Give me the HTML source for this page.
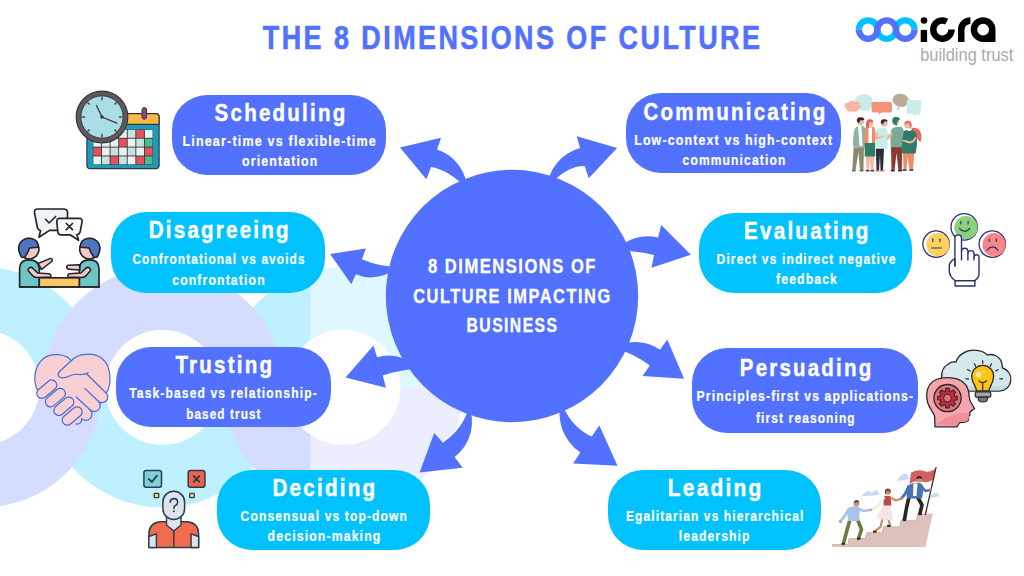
<!DOCTYPE html>
<html><head><meta charset="utf-8"><style>
html,body{margin:0;padding:0;background:#fff;}
body{width:1024px;height:576px;overflow:hidden;}
svg{display:block;}
</style></head><body>
<svg width="1024" height="576" viewBox="0 0 1024 576" font-family="Liberation Sans, sans-serif" font-weight="700">
<rect width="1024" height="576" fill="#fff"/>
<g>
<path fill="#bff0ff" d="M-138.4,387.3 A120.4,120.4 0 0 1 102.4,387.3 L39.5,387.3 A57.5,57.5 0 0 0 -75.5,387.3 Z M42.099999999999994,387.3 A120.4,120.4 0 0 0 282.9,387.3 L220.0,387.3 A57.5,57.5 0 0 1 105.0,387.3 Z M222.6,387.3 A120.4,120.4 0 0 1 463.4,387.3 L400.5,387.3 A57.5,57.5 0 0 0 285.5,387.3 Z"/>
<path fill="#d4dcff" d="M-138.4,387.3 A120.4,120.4 0 0 0 102.4,387.3 L39.5,387.3 A57.5,57.5 0 0 1 -75.5,387.3 Z M42.099999999999994,387.3 A120.4,120.4 0 0 1 282.9,387.3 L220.0,387.3 A57.5,57.5 0 0 0 105.0,387.3 Z M222.6,387.3 A120.4,120.4 0 0 0 463.4,387.3 L400.5,387.3 A57.5,57.5 0 0 1 285.5,387.3 Z"/>
<rect x="310.5" y="0" width="714" height="576" fill="#fff" fill-opacity="0.5"/>
</g>
<g fill="#5271ff">
<path d="M400.0,147.4 L441.0,137.7 L437.1,149.4 A43.9,43.9 0 0 1 467.3,191.8 L468.3,190.5 Q449.9,170.1 431.1,167.0 L426.4,179.2 Z"/>
<path d="M617.1,148.1 L576.7,136.2 L580.1,148.1 A44.9,44.9 0 0 0 546.8,189.0 L548.0,187.0 Q565.8,165.8 584.6,165.9 L588.8,178.2 Z"/>
<path d="M330.0,253.9 L365.9,248.4 L361.9,259.3 A89.9,89.9 0 0 0 402.6,266.6 L398.6,265.4 A37.9,37.9 0 0 1 355.8,274.2 L351.3,284.3 Z"/>
<path d="M345.5,377.4 L373.5,345.5 L377.1,357.3 A37.7,37.7 0 0 1 413.0,364.7 L422.9,368.1 A166.6,166.6 0 0 0 382.8,375.5 L385.9,387.7 Z"/>
<path d="M690.9,254.8 L661.2,225.0 L658.1,237.5 A44.0,44.0 0 0 0 615.1,250.7 L616.2,250.6 A158.6,158.6 0 0 1 654.1,255.1 L651.4,267.8 Z"/>
<path d="M684.1,378.7 L667.3,339.4 L660.0,349.8 A40.9,40.9 0 0 0 616.8,346.9 L612.3,347.1 A124.7,124.7 0 0 1 649.8,365.5 L642.6,375.9 Z"/>
<path d="M419.6,472.5 L434.2,433.1 L442.9,442.8 Q465.2,427.7 470.3,401.6 L467.8,403.0 A44.2,44.2 0 0 1 454.7,457.0 L462.6,467.8 Z"/>
<path d="M617.5,465.7 L599.4,425.4 L591.7,436.5 Q568.6,425.8 560.1,397.9 L561.3,399.8 A47.7,47.7 0 0 0 580.3,452.5 L573.1,463.6 Z"/>

</g>
<circle cx="512" cy="296" r="126.2" fill="#5271ff"/>
<text x="512.50" y="272.5" font-size="19.5" letter-spacing="1.8" text-anchor="middle" textLength="169.00" lengthAdjust="spacingAndGlyphs" fill="#fff" stroke="#fff" stroke-width="0.3">8 DIMENSIONS OF</text>
<text x="512.50" y="302.5" font-size="19.5" letter-spacing="1.8" text-anchor="middle" textLength="198.60" lengthAdjust="spacingAndGlyphs" fill="#fff" stroke="#fff" stroke-width="0.3">CULTURE IMPACTING</text>
<text x="512.50" y="331.9" font-size="19.5" letter-spacing="1.8" text-anchor="middle" textLength="91.80" lengthAdjust="spacingAndGlyphs" fill="#fff" stroke="#fff" stroke-width="0.3">BUSINESS</text>
<rect x="172" y="95" width="214" height="80" rx="35" ry="35" fill="#5271ff"/>
<text x="281.00" y="120.9" font-size="24" letter-spacing="2.6" text-anchor="middle" textLength="132.80" lengthAdjust="spacingAndGlyphs" fill="#fff" stroke="#fff" stroke-width="0.45">Scheduling</text>
<text x="279.70" y="145.6" font-size="13.8" letter-spacing="1.3" text-anchor="middle" textLength="194.60" lengthAdjust="spacingAndGlyphs" fill="#fff" stroke="#fff" stroke-width="0.2">Linear-time vs flexible-time</text>
<text x="280.20" y="165.9" font-size="13.8" letter-spacing="1.3" text-anchor="middle" textLength="76.40" lengthAdjust="spacingAndGlyphs" fill="#fff" stroke="#fff" stroke-width="0.2">orientation</text>
<rect x="626" y="93" width="215" height="80" rx="35" ry="35" fill="#5271ff"/>
<text x="735.50" y="119.8" font-size="24" letter-spacing="2.6" text-anchor="middle" textLength="184.20" lengthAdjust="spacingAndGlyphs" fill="#fff" stroke="#fff" stroke-width="0.45">Communicating</text>
<text x="733.70" y="144.5" font-size="13.8" letter-spacing="1.3" text-anchor="middle" textLength="199.00" lengthAdjust="spacingAndGlyphs" fill="#fff" stroke="#fff" stroke-width="0.2">Low-context vs high-context</text>
<text x="734.50" y="164.7" font-size="13.8" letter-spacing="1.3" text-anchor="middle" textLength="103.80" lengthAdjust="spacingAndGlyphs" fill="#fff" stroke="#fff" stroke-width="0.2">communication</text>
<rect x="111" y="212" width="214" height="81" rx="35" ry="35" fill="#00c2ff"/>
<text x="219.80" y="238.3" font-size="24" letter-spacing="2.6" text-anchor="middle" textLength="142.00" lengthAdjust="spacingAndGlyphs" fill="#fff" stroke="#fff" stroke-width="0.45">Disagreeing</text>
<text x="219.00" y="264" font-size="13.8" letter-spacing="1.3" text-anchor="middle" textLength="173.20" lengthAdjust="spacingAndGlyphs" fill="#fff" stroke="#fff" stroke-width="0.2">Confrontational vs avoids</text>
<text x="219.00" y="285" font-size="13.8" letter-spacing="1.3" text-anchor="middle" textLength="93.60" lengthAdjust="spacingAndGlyphs" fill="#fff" stroke="#fff" stroke-width="0.2">confrontation</text>
<rect x="699" y="213" width="213" height="80" rx="35" ry="35" fill="#00c2ff"/>
<text x="807.30" y="239.1" font-size="24" letter-spacing="2.6" text-anchor="middle" textLength="126.60" lengthAdjust="spacingAndGlyphs" fill="#fff" stroke="#fff" stroke-width="0.45">Evaluating</text>
<text x="806.60" y="263.9" font-size="13.8" letter-spacing="1.3" text-anchor="middle" textLength="180.00" lengthAdjust="spacingAndGlyphs" fill="#fff" stroke="#fff" stroke-width="0.2">Direct vs indirect negative</text>
<text x="807.00" y="284" font-size="13.8" letter-spacing="1.3" text-anchor="middle" textLength="62.00" lengthAdjust="spacingAndGlyphs" fill="#fff" stroke="#fff" stroke-width="0.2">feedback</text>
<rect x="116" y="347" width="215" height="80" rx="35" ry="35" fill="#5271ff"/>
<text x="224.80" y="373.2" font-size="24" letter-spacing="2.6" text-anchor="middle" textLength="98.80" lengthAdjust="spacingAndGlyphs" fill="#fff" stroke="#fff" stroke-width="0.45">Trusting</text>
<text x="223.50" y="398" font-size="13.8" letter-spacing="1.3" text-anchor="middle" textLength="188.60" lengthAdjust="spacingAndGlyphs" fill="#fff" stroke="#fff" stroke-width="0.2">Task-based vs relationship-</text>
<text x="223.90" y="418.6" font-size="13.8" letter-spacing="1.3" text-anchor="middle" textLength="75.40" lengthAdjust="spacingAndGlyphs" fill="#fff" stroke="#fff" stroke-width="0.2">based trust</text>
<rect x="692" y="348" width="226" height="85" rx="35" ry="35" fill="#5271ff"/>
<text x="806.60" y="376.3" font-size="24" letter-spacing="2.6" text-anchor="middle" textLength="133.60" lengthAdjust="spacingAndGlyphs" fill="#fff" stroke="#fff" stroke-width="0.45">Persuading</text>
<text x="805.40" y="401.4" font-size="13.8" letter-spacing="1.3" text-anchor="middle" textLength="217.60" lengthAdjust="spacingAndGlyphs" fill="#fff" stroke="#fff" stroke-width="0.2">Principles-first vs applications-</text>
<text x="805.90" y="423.2" font-size="13.8" letter-spacing="1.3" text-anchor="middle" textLength="99.80" lengthAdjust="spacingAndGlyphs" fill="#fff" stroke="#fff" stroke-width="0.2">first reasoning</text>
<rect x="217" y="470" width="213" height="80" rx="35" ry="35" fill="#00c2ff"/>
<text x="324.90" y="495.9" font-size="24" letter-spacing="2.6" text-anchor="middle" textLength="105.00" lengthAdjust="spacingAndGlyphs" fill="#fff" stroke="#fff" stroke-width="0.45">Deciding</text>
<text x="324.30" y="520.6" font-size="13.8" letter-spacing="1.3" text-anchor="middle" textLength="167.40" lengthAdjust="spacingAndGlyphs" fill="#fff" stroke="#fff" stroke-width="0.2">Consensual vs top-down</text>
<text x="324.50" y="540.9" font-size="13.8" letter-spacing="1.3" text-anchor="middle" textLength="113.80" lengthAdjust="spacingAndGlyphs" fill="#fff" stroke="#fff" stroke-width="0.2">decision-making</text>
<rect x="608" y="470" width="213" height="80" rx="35" ry="35" fill="#00c2ff"/>
<text x="715.70" y="496.4" font-size="24" letter-spacing="2.6" text-anchor="middle" textLength="95.80" lengthAdjust="spacingAndGlyphs" fill="#fff" stroke="#fff" stroke-width="0.45">Leading</text>
<text x="715.20" y="521.1" font-size="13.8" letter-spacing="1.3" text-anchor="middle" textLength="178.40" lengthAdjust="spacingAndGlyphs" fill="#fff" stroke="#fff" stroke-width="0.2">Egalitarian vs hierarchical</text>
<text x="714.70" y="541.3" font-size="13.8" letter-spacing="1.3" text-anchor="middle" textLength="71.80" lengthAdjust="spacingAndGlyphs" fill="#fff" stroke="#fff" stroke-width="0.2">leadership</text>
<text x="512.60" y="48.8" font-size="33" letter-spacing="3" text-anchor="middle" textLength="499.60" lengthAdjust="spacingAndGlyphs" fill="#5271ff" stroke="#5271ff" stroke-width="0.6">THE 8 DIMENSIONS OF CULTURE</text>
<g id="i1"><rect x="86.9" y="113.7" width="72.2" height="55" rx="3.5" fill="#1c9cbd" stroke="#3b3638" stroke-width="1.2"/><path d="M86.9,124.3 V117.2 a3.5,3.5 0 0 1 3.5,-3.5 H155.6 a3.5,3.5 0 0 1 3.5,3.5 V124.3 Z" fill="#fdb946" stroke="#3b3638" stroke-width="1.2"/><rect x="92.9" y="129.4" width="60.1" height="35.4" fill="#3b3638"/><rect x="93.35" y="129.85" width="7.69" height="7.95" fill="#e6f3f1"/><rect x="101.94" y="129.85" width="7.69" height="7.95" fill="#e6f3f1"/><rect x="110.52" y="129.85" width="7.69" height="7.95" fill="#e6f3f1"/><rect x="119.11" y="129.85" width="7.69" height="7.95" fill="#e6f3f1"/><rect x="127.69" y="129.85" width="7.69" height="7.95" fill="#c6e3df"/><rect x="136.28" y="129.85" width="7.69" height="7.95" fill="#e5525f"/><rect x="144.86" y="129.85" width="7.69" height="7.95" fill="#e6f3f1"/><rect x="93.35" y="138.70" width="7.69" height="7.95" fill="#e6f3f1"/><rect x="101.94" y="138.70" width="7.69" height="7.95" fill="#e6f3f1"/><rect x="110.52" y="138.70" width="7.69" height="7.95" fill="#e6f3f1"/><rect x="119.11" y="138.70" width="7.69" height="7.95" fill="#e5525f"/><rect x="127.69" y="138.70" width="7.69" height="7.95" fill="#e6f3f1"/><rect x="136.28" y="138.70" width="7.69" height="7.95" fill="#c6e3df"/><rect x="144.86" y="138.70" width="7.69" height="7.95" fill="#4dbb8e"/><rect x="93.35" y="147.55" width="7.69" height="7.95" fill="#e5525f"/><rect x="101.94" y="147.55" width="7.69" height="7.95" fill="#e6f3f1"/><rect x="110.52" y="147.55" width="7.69" height="7.95" fill="#c6e3df"/><rect x="119.11" y="147.55" width="7.69" height="7.95" fill="#e6f3f1"/><rect x="127.69" y="147.55" width="7.69" height="7.95" fill="#c6e3df"/><rect x="136.28" y="147.55" width="7.69" height="7.95" fill="#e6f3f1"/><rect x="144.86" y="147.55" width="7.69" height="7.95" fill="#e5525f"/><rect x="93.35" y="156.40" width="7.69" height="7.95" fill="#e6f3f1"/><rect x="101.94" y="156.40" width="7.69" height="7.95" fill="#c6e3df"/><rect x="110.52" y="156.40" width="7.69" height="7.95" fill="#e5525f"/><rect x="119.11" y="156.40" width="7.69" height="7.95" fill="#c6e3df"/><rect x="127.69" y="156.40" width="7.69" height="7.95" fill="#e6f3f1"/><rect x="136.28" y="156.40" width="7.69" height="7.95" fill="#e5525f"/><rect x="144.86" y="156.40" width="7.69" height="7.95" fill="#4dbb8e"/><rect x="142" y="107.6" width="4.6" height="11.6" rx="2.3" fill="#8c3f96" stroke="#3b3638" stroke-width="1"/><circle cx="102" cy="117" r="25.8" fill="#5e595e" stroke="#3b3638" stroke-width="1.2"/><circle cx="102" cy="117" r="21.2" fill="#a9dfe4" stroke="#3b3638" stroke-width="1"/><line x1="102.00" y1="100.20" x2="102.00" y2="96.40" stroke="#3b3638" stroke-width="1.3"/><line x1="114.45" y1="104.55" x2="116.42" y2="102.58" stroke="#3b3638" stroke-width="1.3"/><line x1="118.80" y1="117.00" x2="122.60" y2="117.00" stroke="#3b3638" stroke-width="1.3"/><line x1="114.45" y1="129.45" x2="116.42" y2="131.42" stroke="#3b3638" stroke-width="1.3"/><line x1="102.00" y1="133.80" x2="102.00" y2="137.60" stroke="#3b3638" stroke-width="1.3"/><line x1="89.55" y1="129.45" x2="87.58" y2="131.42" stroke="#3b3638" stroke-width="1.3"/><line x1="85.20" y1="117.00" x2="81.40" y2="117.00" stroke="#3b3638" stroke-width="1.3"/><line x1="89.55" y1="104.55" x2="87.58" y2="102.58" stroke="#3b3638" stroke-width="1.3"/><path d="M96.5,105.5 L102,117 L116.8,123.2" fill="none" stroke="#3b3638" stroke-width="1.3" stroke-linecap="round" stroke-linejoin="round"/><circle cx="102" cy="117" r="1.8" fill="#4a3530"/></g>
<g id="i2"><path d="M855,102 C853,93 872,91 872.5,100 C873,107 869,110 869,110 L869.5,112 L866,110.5 C860,112 856,109 855,102Z" fill="#c9ede6"/><path d="M846,108 C843,106 845,102 848.5,102.8 C849,100.5 853,100 854.5,101.5 C856,100.5 859.5,101.5 859.5,104 C861.5,105 861,109 858,109.5 C858,111.5 855,112.5 853.8,111.2 L853.5,113.8 L852.5,111.5 C849,112.5 846.5,111 846,108Z" fill="#f6b8a6"/><path d="M873.5,102 H890 Q892,102 892,104 V110.5 Q892,112.6 890,112.6 H881 L879.7,115 L878.5,112.6 H873.5 Q871.5,112.6 871.5,110.5 V104 Q871.5,102 873.5,102Z" fill="#f0937a"/><ellipse cx="900.7" cy="100.3" rx="8.2" ry="6.6" fill="#b9ae95" transform="rotate(8 900.7 100.3)"/><rect x="897.5" y="107" width="1.8" height="1.6" fill="#b9ae95"/><rect x="896.8" y="109.2" width="1.4" height="1.3" fill="#b9ae95"/><path d="M908,99.7 L920,100.6 Q921.6,100.8 921.4,102.5 L920.5,113 Q920.3,114.8 918.6,114.7 L916,114.5 L914.4,116.6 L913.8,114.3 L908,113.8 Q906.3,113.6 906.5,112 L906.7,101.4 Q906.7,99.6 908,99.7Z" fill="#c9ede6"/><path d="M853.7,147.5 L852.2,170.5 L855.5,170.5 L858.5,152 L860,170.5 L863.4,170.5 L864,147Z" fill="#8d876b"/><path d="M855,128 Q858,125 862,125.5 L865.5,128 L865.5,147.5 L853.2,147.5 Q852.5,135 855,128Z" fill="#8fb3a4"/><path d="M858,126 L861.5,126 L862.5,146 L859.5,146Z" fill="#ffffff"/><circle cx="860.6" cy="121.5" r="3.6" fill="#f2b8a0"/><path d="M856.8,121 Q856.5,116.8 860.8,117.2 Q864.5,117.4 864.3,120 L860,120.5 L859,123.5 Z" fill="#2b2a35"/><rect x="852" y="170" width="3.6" height="1.4" fill="#2f7a68"/><rect x="859.5" y="170" width="4" height="1.4" fill="#2f7a68"/><path d="M866,156 L866.5,170.5 L869,170.5 L869.8,158 L871,170.5 L873.5,170.5 L874,156Z" fill="#f2b8a0"/><path d="M865,129 Q867.5,126 870,126.5 L874,127 Q876.5,130 876.3,146 L864.2,146 Q864,135 865,129Z" fill="#ec8d6a"/><rect x="868.5" y="127.5" width="3.5" height="16" fill="#ffffff"/><path d="M864.6,143 L875,143 L875.2,156.5 L864.7,156.5Z" fill="#2f7a68"/><circle cx="870" cy="123" r="3.4" fill="#f2b8a0"/><path d="M866.2,128 Q865,119 870,119.2 Q873.5,119.5 873,122 L869.5,122 L868.5,128Z" fill="#e5605a"/><rect x="865.8" y="170" width="3.6" height="1.4" fill="#2b2a35"/><rect x="870.5" y="170" width="3.6" height="1.4" fill="#2b2a35"/><path d="M875.8,148 L876.5,170.5 L879,170.5 L880,154 L880.5,170.5 L883,170.5 L884,148Z" fill="#2f2a35"/><path d="M876.5,129.5 Q880,127 884.5,127.5 Q888,128.5 887.8,135 L887.5,148.8 L875.2,148.8 Q874.5,136 876.5,129.5Z" fill="#c8efe7"/><path d="M876,133 Q873,138 876.5,140 L884.5,136.5 L884,135 L878,137.2 L878.5,133Z" fill="#f2b8a0"/><circle cx="884.2" cy="123" r="3.5" fill="#f2b8a0"/><path d="M880.8,123 Q880.5,118.8 884.5,119.2 Q888,119.5 887.5,121.5 L884,121.5 L883,124.5Z" fill="#2b2a35"/><rect x="875.5" y="170" width="4" height="1.4" fill="#e5605a"/><rect x="880.3" y="170" width="4" height="1.4" fill="#e5605a"/><path d="M891,146.5 L891.5,170.5 L894.5,170.5 L896.5,153 L898.5,170.5 L901.8,170.5 L902.2,146.5Z" fill="#8a3a2e"/><path d="M891.5,129 Q896,126 901.5,127 Q904.5,128.5 904.2,137 L903,147.3 L890.7,147.3 Q890,136 891.5,129Z" fill="#7da796"/><path d="M888,135 L886.5,139 L888.5,140 L892,135Z" fill="#f2b8a0"/><path d="M887.5,134 L893,133.5 L892,135.5 L888,136Z" fill="#f2b8a0"/><circle cx="895.5" cy="122" r="3.5" fill="#f2b8a0"/><path d="M892.5,122.5 Q891.5,116.5 896,117 Q900,116.5 899.8,120 L897.5,121 L896.5,126Z" fill="#2e7a65"/><rect x="890.8" y="170" width="4" height="1.4" fill="#2b2a35"/><rect x="898" y="170" width="4" height="1.4" fill="#2b2a35"/><path d="M911,128 Q917,127 920,131 Q922.5,136 920.5,142 Q918,141 916,136Z" fill="#e8675e"/><path d="M903,152.5 L903.5,169.5 L906.5,169.5 L907.5,157 L909.5,169.5 L913,169.5 L914.3,152.5Z" fill="#ec8d6a"/><path d="M904,131 Q909,128.5 914,130.5 Q917.5,133 917,142 Q916.5,150 915.5,153.5 L902.2,153.5 Q901.5,140 904,131Z" fill="#2f7a68"/><path d="M905.5,129.5 Q908.5,132 912,130 L911.5,128.5 L906,128.5Z" fill="#ffffff"/><path d="M902.5,140 Q907,139.5 910,141.5 Q914,140 915.5,136.5 L916.5,137.5 Q915,143 909.5,143.5 Q905,142 902.5,141Z" fill="#f2b8a0"/><circle cx="907.8" cy="125" r="3.5" fill="#f2b8a0"/><path d="M904.5,125 Q904,120.5 908.5,120.8 Q912.5,121.5 911.5,127 L910.5,129 L909.5,123.5 L906,123.5Z" fill="#e8675e"/><rect x="902.5" y="169.3" width="4" height="1.5" fill="#2b2a35"/><rect x="909.3" y="169.3" width="4" height="1.5" fill="#2b2a35"/></g>
<g id="i3"><path d="M37.5,209 H63.5 Q67.6,209 67.6,213 L67,226.5 Q66.8,230.4 63,230.4 H49.5 L39,237.2 L40.5,230.6 Q37.6,230 37.2,226.5 L34.5,213 Q34,209 37.5,209Z" fill="#eef3f8" stroke="#232323" stroke-width="1.65" stroke-linejoin="round"/><path d="M45.6,219.3 L49.1,223 L55.7,216.5" fill="none" stroke="#232323" stroke-width="1.65" stroke-linecap="round" stroke-linejoin="round"/><path d="M59.8,218.4 H79.3 Q82.4,218.4 82.1,221.6 L80.2,231.6 Q79.6,234.6 76.6,234.7 L77,234.8 L78.6,240.3 L70,234.8 H61.2 Q58.2,234.8 57.8,231.8 L56.8,221.6 Q56.6,218.4 59.8,218.4Z" fill="#f7f9fb" stroke="#232323" stroke-width="1.65" stroke-linejoin="round"/><path d="M66.3,223.5 L72.5,229.6 M72.5,223.5 L66.3,229.6" stroke="#232323" stroke-width="1.65" stroke-linecap="round"/><g><path d="M19.6,287 V268.5 Q19.6,259.8 29,259.8 Q38.8,259.8 39.3,268.5 V287Z" fill="#6ec5c8" stroke="#232323" stroke-width="1.65" stroke-linejoin="round"/><ellipse cx="29" cy="248.8" rx="9.8" ry="10.2" fill="#f6c9c9" stroke="#232323" stroke-width="1.65" transform="rotate(-25 29 248.8)"/><path d="M21.5,257 Q17,250 19.8,243.5 Q24,237.2 31.5,238.5 Q38.5,240 38.2,247.2 L29.5,248 Q28.5,252 24.3,257.5Z" fill="#4f74c0" stroke="#232323" stroke-width="1.55" stroke-linejoin="round"/><path d="M38,263.5 L49.8,258.6 Q52.8,258.2 52.2,261 L41.5,269.5Z" fill="#f6c9c9" stroke="#232323" stroke-width="1.55" stroke-linejoin="round"/><path d="M29,268 Q31,266.5 33,268.5 L37.6,273 L49,273.8 Q51.4,274.4 50.6,277 L36.5,277.5 Q33.5,277.2 32,275 L28.2,270.7 Q27.8,269 29,268Z" fill="#f6c9c9" stroke="#232323" stroke-width="1.55" stroke-linejoin="round"/></g><g transform="translate(118.6,0) scale(-1,1)"><path d="M19.6,287 V268.5 Q19.6,259.8 29,259.8 Q38.8,259.8 39.3,268.5 V287Z" fill="#6ec5c8" stroke="#232323" stroke-width="1.65" stroke-linejoin="round"/><ellipse cx="29" cy="248.8" rx="9.8" ry="10.2" fill="#f6c9c9" stroke="#232323" stroke-width="1.65" transform="rotate(-25 29 248.8)"/><path d="M21.5,257 Q17,250 19.8,243.5 Q24,237.2 31.5,238.5 Q38.5,240 38.2,247.2 L29.5,248 Q28.5,252 24.3,257.5Z" fill="#4f74c0" stroke="#232323" stroke-width="1.55" stroke-linejoin="round"/><path d="M39.2,264.7 L50.1,265.2 Q52,265.4 51.8,267.2 Q51.6,269.2 49.6,269.2 L38.7,270.1Z" fill="#f6c9c9" stroke="#232323" stroke-width="1.55" stroke-linejoin="round"/><path d="M29,268 Q31,266.5 33,268.5 L37.6,273 L49,273.8 Q51.4,274.4 50.6,277 L36.5,277.5 Q33.5,277.2 32,275 L28.2,270.7 Q27.8,269 29,268Z" fill="#f6c9c9" stroke="#232323" stroke-width="1.55" stroke-linejoin="round"/></g><rect x="39.3" y="277.8" width="40" height="9.2" fill="#fdc56b" stroke="#232323" stroke-width="1.65"/><line x1="19" y1="287" x2="100" y2="287" stroke="#232323" stroke-width="1.65"/></g>
<g id="i4"><circle cx="936.1" cy="244.1" r="13.2" fill="#fff" stroke="#28336d" stroke-width="1.3"/><circle cx="937.9" cy="244.7" r="11.6" fill="#fdd25c"/><path d="M932.8000000000001,238.9 v2.6 M939.9,238.9 v2.6 M931.5,248.0 h10" stroke="#28336d" stroke-width="1.2" stroke-linecap="round"/><circle cx="964.2" cy="226.9" r="13.2" fill="#fff" stroke="#28336d" stroke-width="1.3"/><circle cx="966.0" cy="227.5" r="11.6" fill="#8bd17c"/><path d="M960.8000000000001,221.4 v2.6 M968.1,221.4 v2.6" stroke="#28336d" stroke-width="1.2" stroke-linecap="round"/><path d="M959.5,228.5 Q964.7,234.4 969.7,228.5" fill="none" stroke="#28336d" stroke-width="1.2" stroke-linecap="round"/><circle cx="992.3" cy="244.1" r="13.2" fill="#fff" stroke="#28336d" stroke-width="1.3"/><circle cx="994.0999999999999" cy="244.7" r="11.6" fill="#f6868a"/><path d="M989.1999999999999,238.9 v2.6 M996.3,238.9 v2.6" stroke="#28336d" stroke-width="1.2" stroke-linecap="round"/><path d="M987.0999999999999,250.1 Q992.8,243.6 997.9,250.1" fill="none" stroke="#28336d" stroke-width="1.2" stroke-linecap="round"/><path d="M954.9,266.3 V238.2 Q954.9,234.9 958.2,234.9 Q961.5,234.9 961.5,238.2 V251.5 Q961.5,248.3 964.7,248.3 Q967.9,248.3 967.9,251.5 V253.6 Q967.9,250.6 971,250.6 Q974,250.6 974,253.6 V257.3 Q974,254.7 976.5,254.7 Q979,254.7 979,257.3 V274 Q979,276.5 977.5,278 L974.9,280.8 V286 H955.1 V280.8 Q949.3,276 949.3,271 V266 Q949.3,262 954.9,258.7" fill="#fff" stroke="#28336d" stroke-width="1.4" stroke-linejoin="round"/><path d="M954.9,258.7 V266.3 M961.5,251.5 V259.9 M967.9,253.6 V259.9 M974,257.3 V259.9 M955.1,280.8 H974.9" fill="none" stroke="#28336d" stroke-width="1.4" stroke-linecap="round"/></g>
<g id="i5"><path d="M71.3,360.8 C78,352.5 94,352.5 102,358.5 C111.5,366 112,384.5 106.3,393.2 A5.7,5.7 0 0 1 98.3,401.3 A5.6,5.6 0 0 1 90.2,410 A5.6,5.6 0 0 1 81.5,418.6 L75,424 L67.7,427.6 L37.5,391 C33,383 33,367 43.5,358.5 C51,352.5 66,353.5 71.3,360.8Z" fill="#f8d0d4"/><path d="M38.5,392 C33,383 33,367 43.5,358.5 C51,352.5 66,353.5 71.3,360.8 C78,352.5 94,352.5 102,358.5 C111.5,366 112,384.5 106.3,393.2 A5.7,5.7 0 0 1 98.3,401.3 A5.6,5.6 0 0 1 90.2,410 A5.6,5.6 0 0 1 81.5,418.6 A4.5,4.5 0 0 1 76,424" fill="none" stroke="#4a6ed6" stroke-width="1.25" stroke-linejoin="round" stroke-linecap="round"/><rect x="60.7" y="410.9" width="23" height="10.2" rx="5.1" fill="#f8d0d4" stroke="#4a6ed6" stroke-width="1.25" transform="rotate(-40 72.2 416.0)"/><rect x="52.3" y="401.2" width="23" height="10.2" rx="5.1" fill="#f8d0d4" stroke="#4a6ed6" stroke-width="1.25" transform="rotate(-40 63.8 406.3)"/><rect x="43.9" y="392.5" width="23" height="10.2" rx="5.1" fill="#f8d0d4" stroke="#4a6ed6" stroke-width="1.25" transform="rotate(-40 55.4 397.6)"/><rect x="35.3" y="384.09999999999997" width="23" height="10.2" rx="5.1" fill="#f8d0d4" stroke="#4a6ed6" stroke-width="1.25" transform="rotate(-40 46.8 389.2)"/><path d="M71.3,360.8 L60,371 Q56.5,375 59.5,377 Q63.5,379 69.5,376 Q72,374.2 78,374.5 Q84,375 88.3,372.8" fill="#f8d0d4" stroke="#4a6ed6" stroke-width="1.25" stroke-linejoin="round" stroke-linecap="round"/><path d="M86.8,374 L106.3,393.2 M84.8,388.4 L98.3,401.3 M76.3,397 L90.2,410" fill="none" stroke="#4a6ed6" stroke-width="1.25" stroke-linecap="round"/></g>
<g id="i6"><path d="M943,383 C940,376 942,367 948,364.5 C950,362 953,361.5 956,362 C958,355 966,350 974.5,350.2 C981,350.4 985,352.5 987.5,355 C992,353.5 999,355.5 1001.5,362 C1002,364.5 1002.2,366 1002.5,368 C1008,369.5 1011.5,375 1010.8,380.5 C1010,387 1005,391 999,391 L950,391 C946,391 944,387 943,383Z" fill="#d5e8ec" stroke="#2a2a2a" stroke-width="1.3" stroke-linejoin="round"/><path d="M946,386 L1007,386 C1005,389.5 1002,390.4 999,390.4 L950,390.4 C948,390.4 947,388 946,386Z" fill="#c3dbe2"/><line x1="974.4" y1="363.8" x2="975.6" y2="366.3" stroke="#2a2a2a" stroke-width="1.2" stroke-linecap="round"/><line x1="982.7" y1="360.7" x2="982.7" y2="363.5" stroke="#2a2a2a" stroke-width="1.2" stroke-linecap="round"/><line x1="991.5" y1="363.8" x2="990.3" y2="366.3" stroke="#2a2a2a" stroke-width="1.2" stroke-linecap="round"/><line x1="967.6" y1="369.6" x2="970.1" y2="371" stroke="#2a2a2a" stroke-width="1.2" stroke-linecap="round"/><line x1="998.2" y1="369.6" x2="995.7" y2="371" stroke="#2a2a2a" stroke-width="1.2" stroke-linecap="round"/><line x1="965.8" y1="378.8" x2="968.6" y2="378.8" stroke="#2a2a2a" stroke-width="1.2" stroke-linecap="round"/><line x1="999.8" y1="378.8" x2="1002.6" y2="378.8" stroke="#2a2a2a" stroke-width="1.2" stroke-linecap="round"/><path d="M976.5,391 C976.5,386.5 971.8,383.5 971.8,376.5 C971.8,370 976.6,365.3 982.7,365.3 C988.8,365.3 993.6,370 993.6,376.5 C993.6,383.5 989,386.5 989,391Z" fill="#fcc419" stroke="#2a2a2a" stroke-width="1.3" stroke-linejoin="round"/><circle cx="978.6" cy="374.6" r="2.8" fill="#fde9a0"/><circle cx="983.8" cy="371.6" r="1.2" fill="#fde9a0"/><path d="M979,380.8 Q982.7,384.5 986.6,380.8 M982.7,382.6 V391" fill="none" stroke="#2a2a2a" stroke-width="1.2" stroke-linecap="round"/><rect x="975.2" y="391.8" width="15.6" height="5.4" rx="2" fill="#a5a5a5" stroke="#2a2a2a" stroke-width="1.2"/><path d="M978.2,397.2 H987.6 V398.5 Q987.6,402 982.9,402 Q978.2,402 978.2,398.5Z" fill="#7a7a7a" stroke="#2a2a2a" stroke-width="1.2" stroke-linejoin="round"/><path d="M935,426.8 L934.6,416 C932,411 929,407 927.5,402 C926,396 926.5,390 929.5,385 C933,379.5 940,377.6 947,377.6 C955,377.5 962,380 965.6,384.6 C968.5,388.5 969,393 969.3,397 L969.9,400.5 L974.6,408.8 L971,411.1 L969.6,413.2 L970,415 L968.6,416.5 L968.5,420 C967.5,422.5 963,422.6 959.5,422.6 L957,426.8Z" fill="#f4a5ae" stroke="#2a2a2a" stroke-width="1.3" stroke-linejoin="round"/><path d="M936,424.5 C948,416 960,412 968,413 L969.2,416.3 L968.3,419.8 C967.2,422 963,422 959.5,422 L956.6,425.7Z" fill="#ef8f9b"/><circle cx="947.5" cy="398.1" r="13.6" fill="#e07280" stroke="#2a2a2a" stroke-width="1.3"/><path d="M945.46,390.99 L945.78,388.35 L949.22,388.35 L949.54,390.99 L951.09,391.63 L953.18,389.99 L955.61,392.42 L953.97,394.51 L954.61,396.06 L957.25,396.38 L957.25,399.82 L954.61,400.14 L953.97,401.69 L955.61,403.78 L953.18,406.21 L951.09,404.57 L949.54,405.21 L949.22,407.85 L945.78,407.85 L945.46,405.21 L943.91,404.57 L941.82,406.21 L939.39,403.78 L941.03,401.69 L940.39,400.14 L937.75,399.82 L937.75,396.38 L940.39,396.06 L941.03,394.51 L939.39,392.42 L941.82,389.99 L943.91,391.63Z" fill="#c9283a" stroke="#2a2a2a" stroke-width="1.1" stroke-linejoin="round"/><circle cx="947.5" cy="398.1" r="3.9" fill="#e07280" stroke="#2a2a2a" stroke-width="1"/></g>
<g id="i7"><rect x="143.9" y="470.6" width="17.6" height="16.7" rx="2.2" fill="#7fd0d8" stroke="#2c3d4b" stroke-width="1.5"/><path d="M148.6,478.8 L151.9,482 L157,475.6" fill="none" stroke="#2c3d4b" stroke-width="1.8" stroke-linecap="round" stroke-linejoin="round"/><rect x="188.2" y="470.6" width="16.7" height="16.7" rx="2.2" fill="#f0624d" stroke="#2c3d4b" stroke-width="1.5"/><path d="M193.6,476 L199.4,481.9 M199.4,476 L193.6,481.9" stroke="#2c3d4b" stroke-width="1.8" stroke-linecap="round"/><rect x="154.2" y="493.4" width="4.6" height="4.3" rx="0.8" fill="#fcd35e" stroke="#2c3d4b" stroke-width="1.3"/><rect x="189.7" y="493.4" width="4.6" height="4.3" rx="0.8" fill="#fcd35e" stroke="#2c3d4b" stroke-width="1.3"/><path d="M148.9,547.5 V534 Q148.9,523 160,521.7 L187.5,521.7 Q198.6,523 198.6,534 V547.5Z" fill="#f26b4f" stroke="#2c3d4b" stroke-width="1.5" stroke-linejoin="round"/><path d="M148.9,547.5 V536.5 L156.4,533.8 V547.5Z M198.6,547.5 V536.5 L191.1,533.8 V547.5Z" fill="#dde4ec" stroke="#2c3d4b" stroke-width="1.4" stroke-linejoin="round"/><path d="M166.5,516 V525 L173.8,531 L181,525 V516Z" fill="#dde4ec" stroke="#2c3d4b" stroke-width="1.4" stroke-linejoin="round"/><line x1="173.8" y1="531" x2="173.8" y2="547.5" stroke="#2c3d4b" stroke-width="1.4"/><rect x="162.9" y="491.2" width="21.7" height="28.3" rx="10.8" fill="#dde4ec" stroke="#2c3d4b" stroke-width="1.5"/><path d="M170.2,502.3 Q170.2,498.6 173.9,498.6 Q177.6,498.6 177.6,502.2 Q177.6,504.5 175.4,505.4 Q173.9,506 173.9,508.2" fill="none" stroke="#2c3d4b" stroke-width="1.6" stroke-linecap="round"/><circle cx="173.9" cy="511.3" r="1" fill="#2c3d4b"/></g>
<g id="i8"><path d="M897,481 Q901.55,472.6 906.75,474 Q908.05,477.5 910,478.9 Z" fill="#c8d8f3"/><path d="M861.5,496.5 Q865.7,490.5 870.5,491.5 Q871.7,494.0 873.5,495.0 Z" fill="#c8d8f3"/><path d="M870,496.0 Q873.5,489.4 877.5,490.5 Q878.5,493.25 880,494.35 Z" fill="#c8d8f3"/><path d="M930,497.5 Q933.5,492.1 937.5,493 Q938.5,495.25 940,496.15 Z" fill="#c8d8f3"/><path d="M832,544.6 H848 L849,538.6 H865.5 L866.5,532.7 H882.3 L883.3,526.8 H899.9 L900.9,520.4 H916.6 L917.6,514.3 H932.6 L925.4,547 H832Z" fill="#dcc1bd"/><path d="M832,544.6 H848 L849,538.6 H865.5 L866.5,532.7 H882.3 L883.3,526.8 H899.9 L900.9,520.4 H916.6 L917.6,514.3 H932.6" fill="none" stroke="#c9a9a4" stroke-width="0.8"/><path d="M911,472.8 Q918,469 924,471 Q930,473 935.2,468.8 L933.2,479.5 Q928,483.5 922,481.5 Q915,480 909.5,484Z" fill="#d45f5f"/><line x1="936" y1="467.6" x2="925.4" y2="514.5" stroke="#3a2b2b" stroke-width="1.3" stroke-linecap="round"/><polyline points="850,519.5 846.5,532 843.5,543.5" fill="none" stroke="#6f7a3e" stroke-width="3.6" stroke-linecap="round" stroke-linejoin="round"/><polyline points="857.5,519.5 861.5,529.5 858.5,538.5" fill="none" stroke="#6f7a3e" stroke-width="3.6" stroke-linecap="round" stroke-linejoin="round"/><path d="M847.5,509 Q851,505.5 857,506 Q860.5,507 859.5,512 L859,521 L848,521 Q847,514 847.5,509Z" fill="#a9c3ea"/><polyline points="849,509 844.5,516 840.5,521.5" fill="none" stroke="#a9c3ea" stroke-width="2.8" stroke-linecap="round" stroke-linejoin="round"/><polyline points="857,508.5 864,511 870,510" fill="none" stroke="#a9c3ea" stroke-width="2.6" stroke-linecap="round" stroke-linejoin="round"/><circle cx="840.3" cy="521.6" r="1.3" fill="#c98d6a"/><circle cx="871.2" cy="509.8" r="1.4" fill="#c98d6a"/><circle cx="856.5" cy="503.5" r="2.8" fill="#c98d6a"/><path d="M853.7,503 Q854,499.8 857,500 Q859.5,500.5 859.2,502.5 L856.5,502Z" fill="#6b3b2b"/><rect x="841.5" y="543" width="3.5" height="1.6" fill="#2a2020"/><rect x="857" y="537.8" width="3.5" height="1.6" fill="#2a2020"/><polyline points="882.5,519 880.5,527 874.5,531.5" fill="none" stroke="#c98d6a" stroke-width="2.2" stroke-linecap="round" stroke-linejoin="round"/><polyline points="888.5,519 890,525.5 888.5,525.8" fill="none" stroke="#c98d6a" stroke-width="2.2" stroke-linecap="round" stroke-linejoin="round"/><path d="M884,504.5 L876,517 Q883,521.5 893.5,519.5 L890.5,504.5Z" fill="#f6e4e2"/><path d="M883.8,496.5 Q887.5,495 891,496.5 L891.2,505.5 L883.5,505.5Z" fill="#b84a4a"/><polyline points="884,498 878.5,505 872.5,509.5" fill="none" stroke="#f3ecec" stroke-width="2.2" stroke-linecap="round" stroke-linejoin="round"/><polyline points="890.5,497.5 896,500.5 901.5,498.5" fill="none" stroke="#c98d6a" stroke-width="2" stroke-linecap="round" stroke-linejoin="round"/><circle cx="887.8" cy="492" r="2.8" fill="#c98d6a"/><path d="M884.8,492.5 Q884.5,488.2 888.2,488.6 Q891.5,489 890.8,493 Q889.8,490.5 886.5,491 L885.8,495Z" fill="#8a4a3a"/><rect x="873" y="530.8" width="3.5" height="1.8" fill="#2a2020"/><rect x="887" y="525" width="3.5" height="1.8" fill="#2a2020"/><polyline points="909,497 906.5,508 904.5,519.5" fill="none" stroke="#2d2424" stroke-width="3.6" stroke-linecap="round" stroke-linejoin="round"/><polyline points="917.5,497 922,505 920,513.5" fill="none" stroke="#2d2424" stroke-width="3.6" stroke-linecap="round" stroke-linejoin="round"/><path d="M907.5,485.5 Q913,482 920,483 Q924,484.5 923.5,490 L922,498.5 L907,498.5 Q905.5,492 907.5,485.5Z" fill="#4a72b5"/><path d="M913.5,483.5 L917.5,483.5 L916.5,496 L913,496Z" fill="#ffffff"/><polyline points="908.5,487 905,494 901.5,498.3" fill="none" stroke="#4a72b5" stroke-width="2.8" stroke-linecap="round" stroke-linejoin="round"/><polyline points="921.5,486.5 925.5,491 930,490" fill="none" stroke="#4a72b5" stroke-width="2.6" stroke-linecap="round" stroke-linejoin="round"/><circle cx="901.5" cy="498.6" r="1.3" fill="#c98d6a"/><circle cx="930.6" cy="489.6" r="1.4" fill="#c98d6a"/><circle cx="919.2" cy="479.6" r="2.9" fill="#c98d6a"/><path d="M916.2,479.2 Q916.3,475.8 919.5,476 Q922.5,476.3 922.2,479 L919.5,478.2Z" fill="#3a2a25"/><rect x="902.5" y="519" width="3.6" height="1.6" fill="#2a2020"/><rect x="918.5" y="513" width="3.6" height="1.6" fill="#2a2020"/></g>
<g id="i9"><path d="M855.7,29.6 A12.4,12.4 0 0 1 880.5,29.6 L874.2,29.6 A6.1,6.1 0 0 0 862.0,29.6 Z M874.3000000000001,29.6 A12.4,12.4 0 0 0 899.1,29.6 L892.8000000000001,29.6 A6.1,6.1 0 0 1 880.6,29.6 Z M892.9,29.6 A12.4,12.4 0 0 1 917.6999999999999,29.6 L911.4,29.6 A6.1,6.1 0 0 0 899.1999999999999,29.6 Z" fill="#00c2ff"/><path d="M855.7,29.6 A12.4,12.4 0 0 0 880.5,29.6 L874.2,29.6 A6.1,6.1 0 0 1 862.0,29.6 Z M874.3000000000001,29.6 A12.4,12.4 0 0 1 899.1,29.6 L892.8000000000001,29.6 A6.1,6.1 0 0 0 880.6,29.6 Z M892.9,29.6 A12.4,12.4 0 0 0 917.6999999999999,29.6 L911.4,29.6 A6.1,6.1 0 0 1 899.1999999999999,29.6 Z" fill="#5271ff"/><circle cx="924" cy="20.5" r="3.3" fill="#000"/><rect x="920.7" y="29.9" width="6.4" height="12.1" fill="#000"/><path d="M948.22,18.65 A12.4,12.4 0 1 0 954.8,29.6 L948.3,29.6 A5.9,5.9 0 1 1 945.17,24.39 Z" fill="#000"/><path d="M958.0,42.0 V29.6 A12.4,12.4 0 0 1 970.4,17.200000000000003 V24.000000000000004 A5.9,5.9 0 0 0 964.5,29.6 V42.0 Z" fill="#000"/><path d="M995.5,29.6 V42.0 H983.1 A12.4,12.4 0 1 1 995.5,29.6 Z M989.0,29.6 A5.9,5.9 0 1 0 977.2,29.6 A5.9,5.9 0 1 0 989.0,29.6 Z" fill="#000" fill-rule="evenodd"/><text x="966.75" y="60.5" font-size="18.5" font-weight="400" text-anchor="middle" textLength="93.2" lengthAdjust="spacingAndGlyphs" fill="#a9a9ac">building trust</text></g>

</svg>
</body></html>
